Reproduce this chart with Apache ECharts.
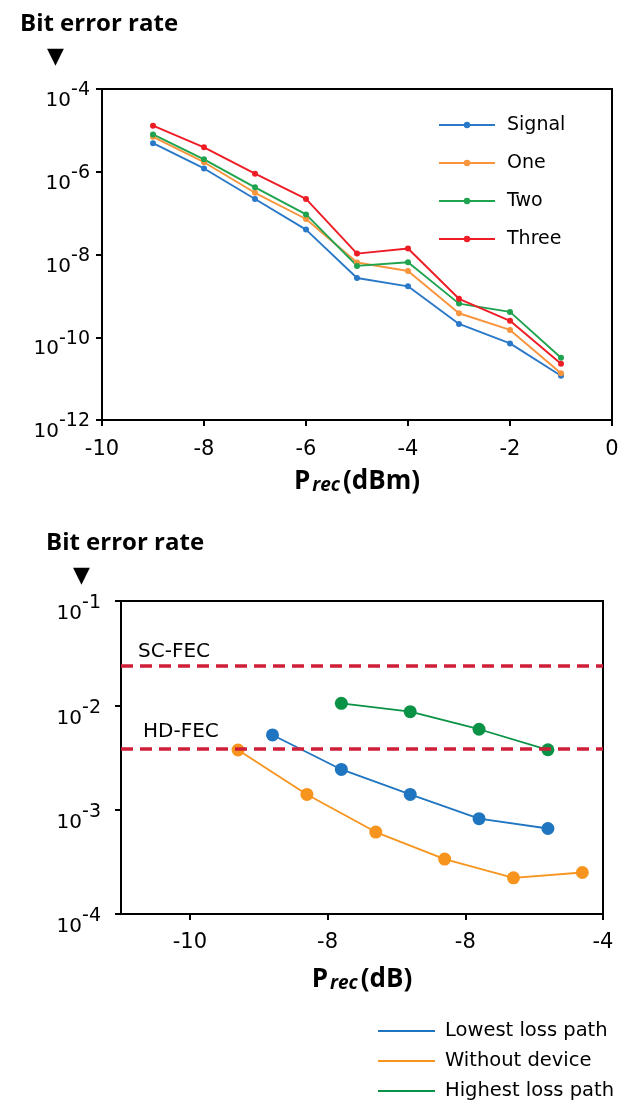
<!DOCTYPE html>
<html><head><meta charset="utf-8">
<script src="https://cdn.jsdelivr.net/npm/echarts@6/dist/echarts.min.js"></script>
<style>html,body{margin:0;padding:0;background:#fff}#c{width:640px;height:1112px}</style>
</head><body><div id="c"></div>
<script>
// ---------- top chart data ----------
const topX = [-9, -8, -7, -6, -5, -4, -3, -2, -1];
const topNames = ['Signal', 'One', 'Two', 'Three'];
const topSignal = [4.9e-6, 1.2e-6, 2.2e-7, 4.0e-8, 2.7e-9, 1.7e-9, 2.1e-10, 7.1e-11, 1.17e-11];
const topOne    = [7.0e-6, 1.7e-6, 3.1e-7, 7.2e-8, 6.4e-9, 4.0e-9, 3.8e-10, 1.5e-10, 1.35e-11];
const topTwo    = [8.0e-6, 2.0e-6, 4.2e-7, 9.3e-8, 5.3e-9, 6.5e-9, 6.5e-10, 4.1e-10, 3.2e-11];
const topThree  = [1.3e-5, 3.9e-6, 9.0e-7, 2.2e-7, 1.05e-8, 1.4e-8, 8.5e-10, 2.5e-10, 2.3e-11];

// ---------- bottom chart data ----------
const botNames = ['Lowest loss path', 'Without device', 'Highest loss path'];
const lowX = [-8.8, -7.8, -6.8, -5.8, -4.8];
const lowY = [5.2e-3, 2.43e-3, 1.40e-3, 8.2e-4, 6.6e-4];
const woX  = [-9.3, -8.3, -7.3, -6.3, -5.3, -4.3];
const woY  = [3.73e-3, 1.40e-3, 6.1e-4, 3.36e-4, 2.22e-4, 2.5e-4];
const hiX  = [-7.8, -6.8, -5.8, -4.8];
const hiY  = [1.045e-2, 8.7e-3, 5.9e-3, 3.75e-3];
const botXTickValues = [-10, -8, -6, -4];
const botXTickLabels = ['-10', '-8', '-8', '-4'];
const fecNames = ['SC-FEC', 'HD-FEC'];
const fecValues = [2.4e-2, 3.8e-3];

const topColors = ['#2a78c8', '#f7943c', '#1ea34e', '#ee1c25'];
const botColors = ['#1f75bf', '#f7941d', '#0a9346'];
const fecColor = '#cf1f38';

const pair = (xs, ys) => xs.map((x, i) => [x, ys[i]]);
const TF = 'DejaVu Sans';
const supFmt = v => '{b|10}{e|' + Math.round(Math.log10(v)) + '}';
const mkSupRich = () => ({
  b: {fontSize: 20, fontFamily: TF, color: '#000', lineHeight: 18, verticalAlign: 'bottom'},
  e: {fontSize: 19, fontFamily: TF, color: '#000', lineHeight: 30, verticalAlign: 'top'}
});
const mkNameRich = () => ({
  p: {fontSize: 26, fontFamily: 'Open Sans', fontWeight: 'bold', color: '#000', lineHeight: 26, verticalAlign: 'top'},
  r: {fontSize: 19, fontFamily: 'Open Sans', fontWeight: 'bold', fontStyle: 'italic', color: '#000', lineHeight: 19, padding: [12, 3, 0, 2], verticalAlign: 'bottom'},
  d: {fontSize: 26, fontFamily: 'Open Sans', fontWeight: 'bold', color: '#000', lineHeight: 26, verticalAlign: 'top'}
});
const mkLine = () => ({onZero: false, lineStyle: {color: '#000', width: 2}});
const mkTick = () => ({show: true, length: 6, lineStyle: {color: '#000', width: 2}});

const topSeriesData = [topSignal, topOne, topTwo, topThree];
const botSeriesData = [pair(lowX, lowY), pair(woX, woY), pair(hiX, hiY)];

const series = [];
topNames.forEach((n, i) => series.push({
  name: n, type: 'line', xAxisIndex: 0, yAxisIndex: 0,
  data: pair(topX, topSeriesData[i]),
  symbol: 'circle', symbolSize: 6,
  lineStyle: {width: 1.9, color: topColors[i]},
  itemStyle: {color: topColors[i]},
  emphasis: {disabled: true}
}));
botNames.forEach((n, i) => series.push({
  name: n, type: 'line', xAxisIndex: 1, yAxisIndex: 1,
  data: botSeriesData[i],
  symbol: 'circle', symbolSize: 13,
  lineStyle: {width: 1.8, color: botColors[i]},
  itemStyle: {color: botColors[i]},
  emphasis: {disabled: true},
  z: 3
}));
series.push({
  name: 'fec', type: 'line', xAxisIndex: 1, yAxisIndex: 1, data: [], z: 5,
  markLine: {
    silent: true, symbol: 'none', animation: false, precision: 8, z: 5,
    lineStyle: {color: fecColor, type: [12, 7], width: 3.5},
    data: fecNames.map((n, i) => ({
      yAxis: fecValues[i], name: n,
      label: {show: true, position: 'insideStartTop', formatter: '{b}', color: '#000',
        fontSize: 20, fontFamily: TF, distance: i === 0 ? [17, 4] : [22, 7]}
    }))
  }
});

const option = {
  animation: false,
  backgroundColor: '#fff',
  title: [
    {text: 'Bit error rate', left: 20, top: 12, padding: 0, textStyle: {fontSize: 24, fontWeight: 'bold', fontFamily: 'Open Sans', color: '#000'}},
    {text: '▼', left: 47, top: 46, padding: 0, textStyle: {fontSize: 22, fontWeight: 'normal', fontFamily: 'DejaVu Sans', color: '#000'}},
    {text: 'Bit error rate', left: 46, top: 531, padding: 0, textStyle: {fontSize: 24, fontWeight: 'bold', fontFamily: 'Open Sans', color: '#000'}},
    {text: '▼', left: 73, top: 565, padding: 0, textStyle: {fontSize: 22, fontWeight: 'normal', fontFamily: 'DejaVu Sans', color: '#000'}}
  ],
  legend: [
    {orient: 'vertical', left: 438, top: 115, itemWidth: 56, itemHeight: 8, itemGap: 18,
      data: topNames, selectedMode: false, padding: 0,
      textStyle: {fontSize: 19, fontFamily: TF, color: '#000', lineHeight: 20, padding: [0, 0, 0, 7]}},
    {orient: 'vertical', left: 377, top: 1021, itemWidth: 57, itemHeight: 2, itemGap: 10,
      data: botNames, selectedMode: false, padding: 0,
      textStyle: {fontSize: 19.5, fontFamily: TF, color: '#000', lineHeight: 20, padding: [0, 0, 0, 5]}}
  ],
  grid: [
    {left: 102, top: 89, width: 510, height: 331, show: true, borderColor: '#000', borderWidth: 2, backgroundColor: 'transparent'},
    {left: 121, top: 601, width: 482, height: 313, show: true, borderColor: '#000', borderWidth: 2, backgroundColor: 'transparent'}
  ],
  xAxis: [
    {gridIndex: 0, type: 'value', min: -10, max: 0, interval: 2,
      axisLine: mkLine(), axisTick: mkTick(), splitLine: {show: false},
      axisLabel: {fontSize: 21, fontFamily: TF, color: '#000', margin: 19},
      name: '{p|P}{r|rec}{d|(dBm)}', nameLocation: 'middle', nameGap: 49,
      nameTextStyle: {rich: mkNameRich()}},
    {gridIndex: 1, type: 'value', min: -11, max: -4,
      axisLine: mkLine(),
      axisTick: Object.assign(mkTick(), {customValues: botXTickValues}),
      splitLine: {show: false},
      axisLabel: {fontSize: 21, fontFamily: TF, color: '#000', margin: 18,
        customValues: botXTickValues,
        formatter: v => botXTickLabels[botXTickValues.indexOf(v)]},
      name: '{p|P}{r|rec}{d|(dB)}', nameLocation: 'middle', nameGap: 53,
      nameTextStyle: {rich: mkNameRich()}}
  ],
  yAxis: [
    {gridIndex: 0, type: 'log', logBase: 100, min: 1e-12, max: 1e-4,
      axisLine: mkLine(), axisTick: mkTick(), splitLine: {show: false}, minorTick: {show: false},
      axisLabel: {formatter: supFmt, rich: mkSupRich(), margin: 12, padding: [14, 0, 0, 0]}},
    {gridIndex: 1, type: 'log', logBase: 10, min: 1e-4, max: 1e-1,
      axisLine: mkLine(), axisTick: mkTick(), splitLine: {show: false}, minorTick: {show: false},
      axisLabel: {formatter: supFmt, rich: mkSupRich(), margin: 20, padding: [16, 0, 0, 0]}}
  ],
  series: series
};
const chart = echarts.init(document.getElementById('c'));
chart.setOption(option);
</script>
</body></html>
